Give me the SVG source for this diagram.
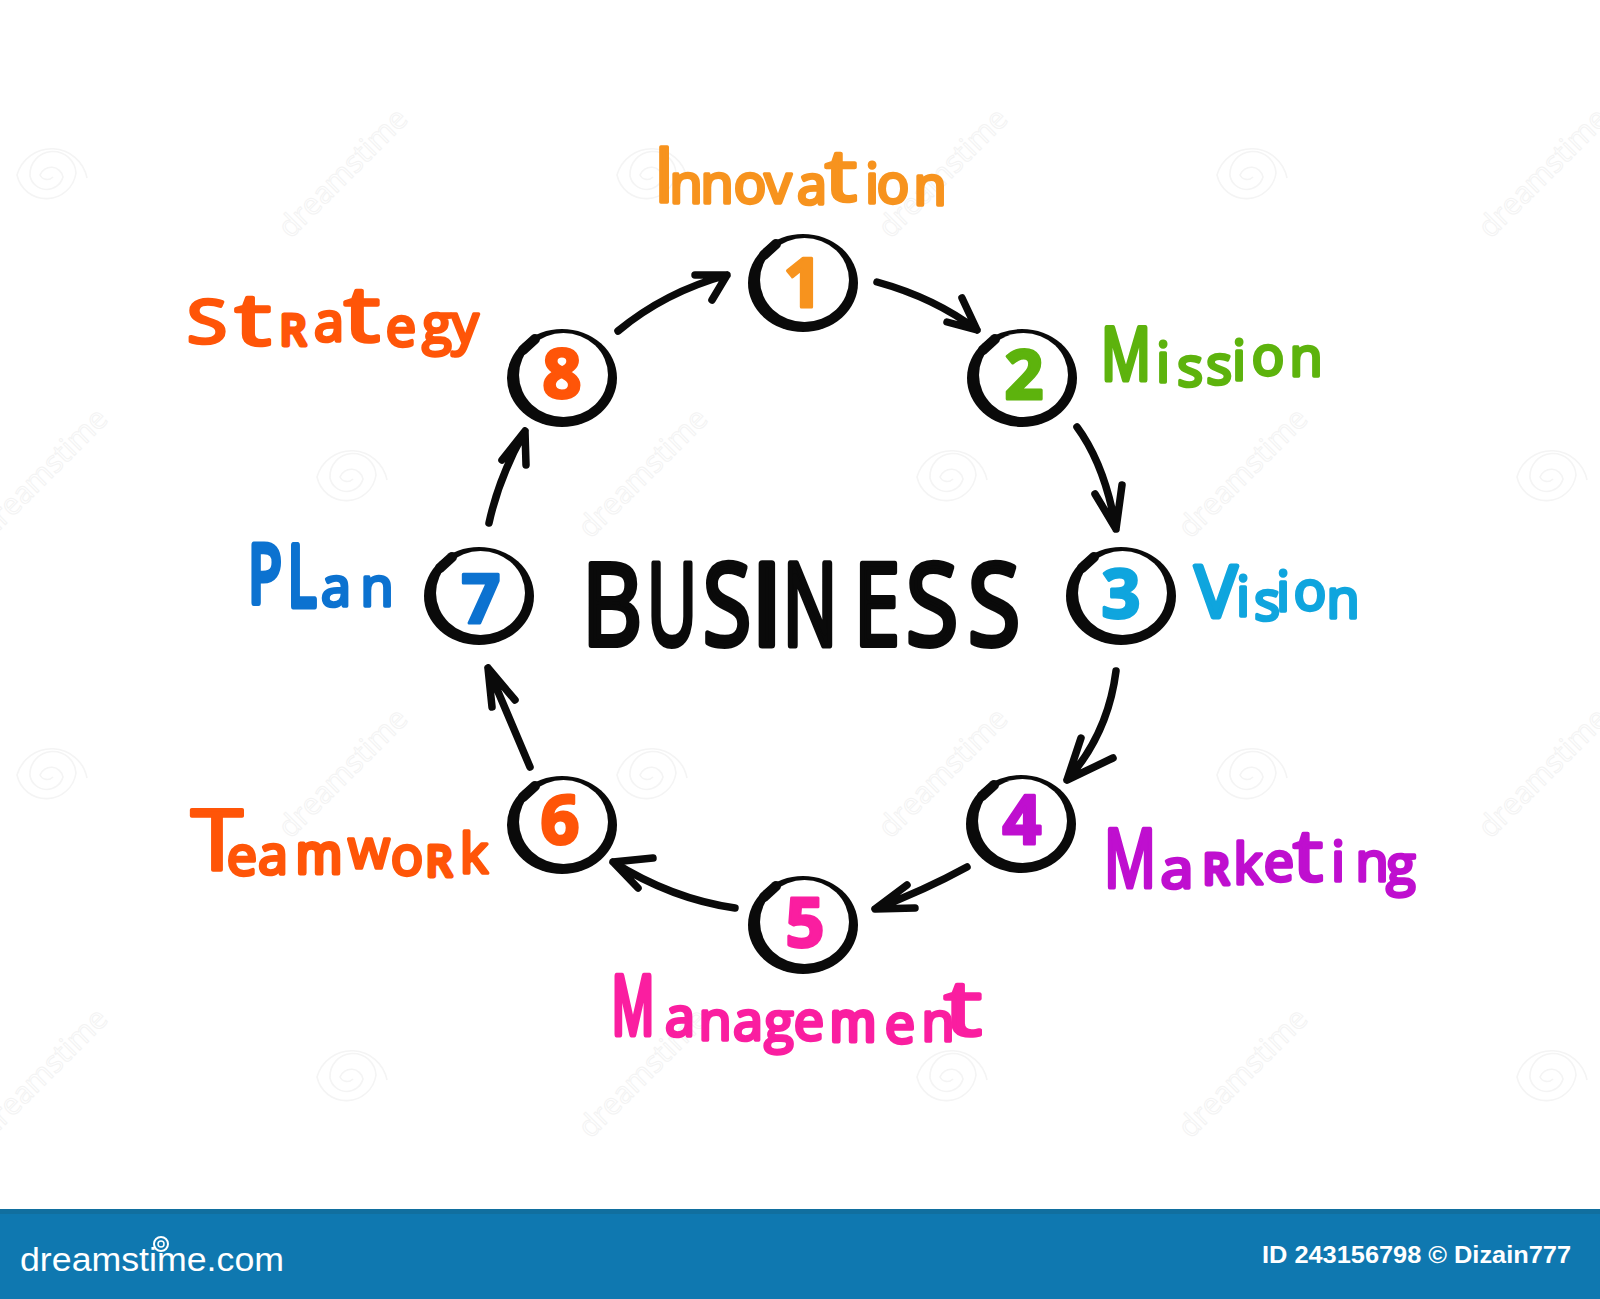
<svg xmlns="http://www.w3.org/2000/svg" width="1600" height="1299" viewBox="0 0 1600 1299">
<style>
.wm{font-family:"Open Sans",sans-serif;font-size:30px;fill:none;stroke:#f3f3f3;stroke-width:1;text-anchor:middle}
.sp{fill:none;stroke:#f4f4f4;stroke-width:1.6}
.arrow{fill:none;stroke:#0a0a0a;stroke-width:7.5;stroke-linecap:round;stroke-linejoin:round}
.dig{font-family:"Open Sans",sans-serif;font-weight:700;font-size:68px;text-anchor:middle;stroke-width:3;stroke-linejoin:round}
.lbl{font-family:"Open Sans",sans-serif;font-size:54px;text-anchor:middle;stroke-width:3.5;stroke-linejoin:round;stroke-linecap:round}
.o1{fill:#f7931e;stroke:#f7931e}.o2{fill:#5db30d;stroke:#5db30d}.o3{fill:#0fa5de;stroke:#0fa5de}.o4{fill:#bf0fcf;stroke:#bf0fcf}
.o5{fill:#fa1ea0;stroke:#fa1ea0}.o6{fill:#ff5508;stroke:#ff5508}.o7{fill:#0c72d0;stroke:#0c72d0}
.title{font-family:"Open Sans",sans-serif;font-size:114px;text-anchor:middle;fill:#0a0a0a;stroke:#0a0a0a;stroke-width:6;stroke-linejoin:round}
.foot{font-family:"Liberation Sans",sans-serif;fill:#fff}
.s5{stroke-width:5px}.s7{stroke-width:7px}
</style>
<defs>
<g id="ring">
<ellipse cx="0" cy="0" rx="55" ry="49" fill="#0a0a0a"/>
<ellipse cx="1.5" cy="-3" rx="44.5" ry="42" fill="#fff"/>
<path d="M-39-28L-27-39" fill="none" stroke="#0a0a0a" stroke-width="10" stroke-linecap="round"/>
</g>
<path id="spiral" class="sp" d="M3 2A8 8 0 0 1-10 0A12 12 0 0 1 13 2A17 17 0 0 1-20 1A23 23 0 0 1 26-2A30 30 0 0 1-33 0A36 36 0 0 1 37 3"/>
</defs>
<rect width="1600" height="1299" fill="#fff"/>
<g id="watermarks">
<use href="#spiral" x="50" y="175"/><use href="#spiral" x="650" y="175"/><use href="#spiral" x="1250" y="175"/>
<use href="#spiral" x="350" y="477"/><use href="#spiral" x="950" y="477"/><use href="#spiral" x="1550" y="477"/>
<use href="#spiral" x="50" y="775"/><use href="#spiral" x="650" y="775"/><use href="#spiral" x="1250" y="775"/>
<use href="#spiral" x="350" y="1077"/><use href="#spiral" x="950" y="1077"/><use href="#spiral" x="1550" y="1077"/>
<text class="wm" transform="translate(350 180) rotate(-45)" textLength="168">dreamstime</text>
<text class="wm" transform="translate(950 180) rotate(-45)" textLength="168">dreamstime</text>
<text class="wm" transform="translate(1550 180) rotate(-45)" textLength="168">dreamstime</text>
<text class="wm" transform="translate(50 480) rotate(-45)" textLength="168">dreamstime</text>
<text class="wm" transform="translate(650 480) rotate(-45)" textLength="168">dreamstime</text>
<text class="wm" transform="translate(1250 480) rotate(-45)" textLength="168">dreamstime</text>
<text class="wm" transform="translate(350 780) rotate(-45)" textLength="168">dreamstime</text>
<text class="wm" transform="translate(950 780) rotate(-45)" textLength="168">dreamstime</text>
<text class="wm" transform="translate(1550 780) rotate(-45)" textLength="168">dreamstime</text>
<text class="wm" transform="translate(50 1080) rotate(-45)" textLength="168">dreamstime</text>
<text class="wm" transform="translate(650 1080) rotate(-45)" textLength="168">dreamstime</text>
<text class="wm" transform="translate(1250 1080) rotate(-45)" textLength="168">dreamstime</text>
</g>
<g id="connectors" class="arrow">
<path d="M618 331Q665 292 727 275M695 275L727 275L712 300"/>
<path d="M877 282Q935 298 977 330M962 298L977 330L947 322"/>
<path d="M1077 427Q1105 465 1116 529M1122 485L1116 529L1095 494"/>
<path d="M1116 671Q1108 734 1067 780M1081 738L1067 780L1113 758"/>
<path d="M967 867Q925 890 875 909M907 885L875 909L915 908"/>
<path d="M735 908Q672 899 613 862M653 858L613 862L638 888"/>
<path d="M530 767L488 668M515 700L488 668L492 707"/>
<path d="M489 523Q499 477 525 431M502 460L525 431L526 465"/>
</g>
<g id="center-title">
<text class="title" y="645"><tspan x="612" textLength="60" lengthAdjust="spacingAndGlyphs">B</tspan><tspan x="672" textLength="50" lengthAdjust="spacingAndGlyphs">U</tspan><tspan x="727" textLength="48" lengthAdjust="spacingAndGlyphs">S</tspan><tspan x="767" class="s7">I</tspan><tspan x="810" textLength="54" lengthAdjust="spacingAndGlyphs" class="s7">N</tspan><tspan x="877" textLength="46" lengthAdjust="spacingAndGlyphs">E</tspan><tspan x="932" textLength="52" lengthAdjust="spacingAndGlyphs">S</tspan><tspan x="994" textLength="52" lengthAdjust="spacingAndGlyphs">S</tspan></text>
</g>
<g id="node-1">
<use href="#ring" x="803" y="283"/>
<text class="dig o1" x="803" y="307">1</text>
<text class="lbl o1"><tspan font-size="76" x="664" y="202">I</tspan><tspan x="686 717 750 778 812" y="203 203 203 203 204">nnova</tspan><tspan font-size="72" x="841" y="201" textLength="32" lengthAdjust="spacingAndGlyphs">t</tspan><tspan x="872 893 930" y="203 203 205">ion</tspan></text>
</g>
<g id="node-2">
<use href="#ring" x="1022" y="378"/>
<text class="dig o2" x="1024" y="399">2</text>
<text class="lbl o2"><tspan font-size="74" x="1126" y="380" textLength="50" lengthAdjust="spacingAndGlyphs" class="s5">M</tspan><tspan x="1163 1190 1219 1239 1268 1306" y="382 386 384 380 375 376">ission</tspan></text>
</g>
<g id="node-3">
<use href="#ring" x="1121" y="596"/>
<text class="dig o3" x="1121" y="618">3</text>
<text class="lbl o3"><tspan font-size="72" x="1216" y="617" textLength="42" lengthAdjust="spacingAndGlyphs" class="s5">V</tspan><tspan x="1243 1267 1283 1310 1343" y="616 620 611 610 618">ision</tspan></text>
</g>
<g id="node-4">
<use href="#ring" x="1021" y="824"/>
<text class="dig o4" x="1022" y="844">4</text>
<text class="lbl o4"><tspan font-size="80" x="1130" y="887" textLength="52" lengthAdjust="spacingAndGlyphs" class="s5">M</tspan><tspan x="1177" y="888" textLength="33" lengthAdjust="spacingAndGlyphs">a</tspan><tspan font-size="42" x="1216" y="884" class="s5">R</tspan><tspan font-size="56" x="1248" y="884">k</tspan><tspan x="1279" y="881">e</tspan><tspan font-size="72" x="1308" y="881" textLength="30" lengthAdjust="spacingAndGlyphs">t</tspan><tspan x="1338 1372 1401" y="881 881 884">ing</tspan></text>
</g>
<g id="node-5">
<use href="#ring" x="803" y="925"/>
<text class="dig o5" x="805" y="947">5</text>
<text class="lbl o5"><tspan font-size="80" x="633" y="1034" textLength="42" lengthAdjust="spacingAndGlyphs" class="s7">M</tspan><tspan x="680 715 748 779 809" y="1036 1040 1040 1041 1040">anage</tspan><tspan x="853" y="1041" textLength="46" lengthAdjust="spacingAndGlyphs" class="s5">m</tspan><tspan x="900 938" y="1043 1041">en</tspan><tspan font-size="76" x="963" y="1035" textLength="38" lengthAdjust="spacingAndGlyphs">t</tspan></text>
</g>
<g id="node-6">
<use href="#ring" x="562" y="825"/>
<text class="dig o6" x="560" y="844">6</text>
<text class="lbl o6"><tspan font-size="84" x="217" y="870" textLength="52" lengthAdjust="spacingAndGlyphs">T</tspan><tspan x="242 273" y="875 874">ea</tspan><tspan x="319" y="873" textLength="46" lengthAdjust="spacingAndGlyphs" class="s5">m</tspan><tspan x="369 407" y="868 875">wo</tspan><tspan font-size="42" x="439" y="876" class="s5">R</tspan><tspan x="474" y="873">k</tspan></text>
</g>
<g id="node-7">
<use href="#ring" x="479" y="596"/>
<text class="dig o7" x="481" y="623">7</text>
<text class="lbl o7"><tspan font-size="80" x="265" y="603" textLength="33" lengthAdjust="spacingAndGlyphs" class="s7">P</tspan><tspan font-size="84" x="302" y="606" textLength="28" lengthAdjust="spacingAndGlyphs" class="s7">L</tspan><tspan x="336 377" y="606 606">an</tspan></text>
</g>
<g id="node-8">
<use href="#ring" x="562" y="378"/>
<text class="dig o6" x="562" y="398">8</text>
<text class="lbl o6"><tspan font-size="60" x="207" y="343" textLength="40" lengthAdjust="spacingAndGlyphs">S</tspan><tspan font-size="72" x="253" y="345" textLength="36" lengthAdjust="spacingAndGlyphs">t</tspan><tspan font-size="42" x="293" y="345" class="s5">R</tspan><tspan x="329" y="341">a</tspan><tspan font-size="76" x="362" y="341" textLength="36" lengthAdjust="spacingAndGlyphs">t</tspan><tspan x="401 437 465" y="346 343 343">egy</tspan></text>
</g>
<g id="footer">
<rect x="0" y="1209" width="1600" height="90" fill="#0f78b0"/>
<rect x="0" y="1209" width="1600" height="5" fill="#116f9f"/>
<text class="foot" x="20" y="1271" font-size="33" textLength="264" lengthAdjust="spacingAndGlyphs">dreamstime.com</text>
<circle cx="161" cy="1244" r="7" fill="none" stroke="#fff" stroke-width="2"/><circle cx="161" cy="1244" r="3" fill="none" stroke="#fff" stroke-width="1.5"/>
<text class="foot" x="1262" y="1263" font-size="24" font-weight="700" textLength="309" lengthAdjust="spacingAndGlyphs">ID 243156798 © Dizain777</text>
</g>
</svg>
